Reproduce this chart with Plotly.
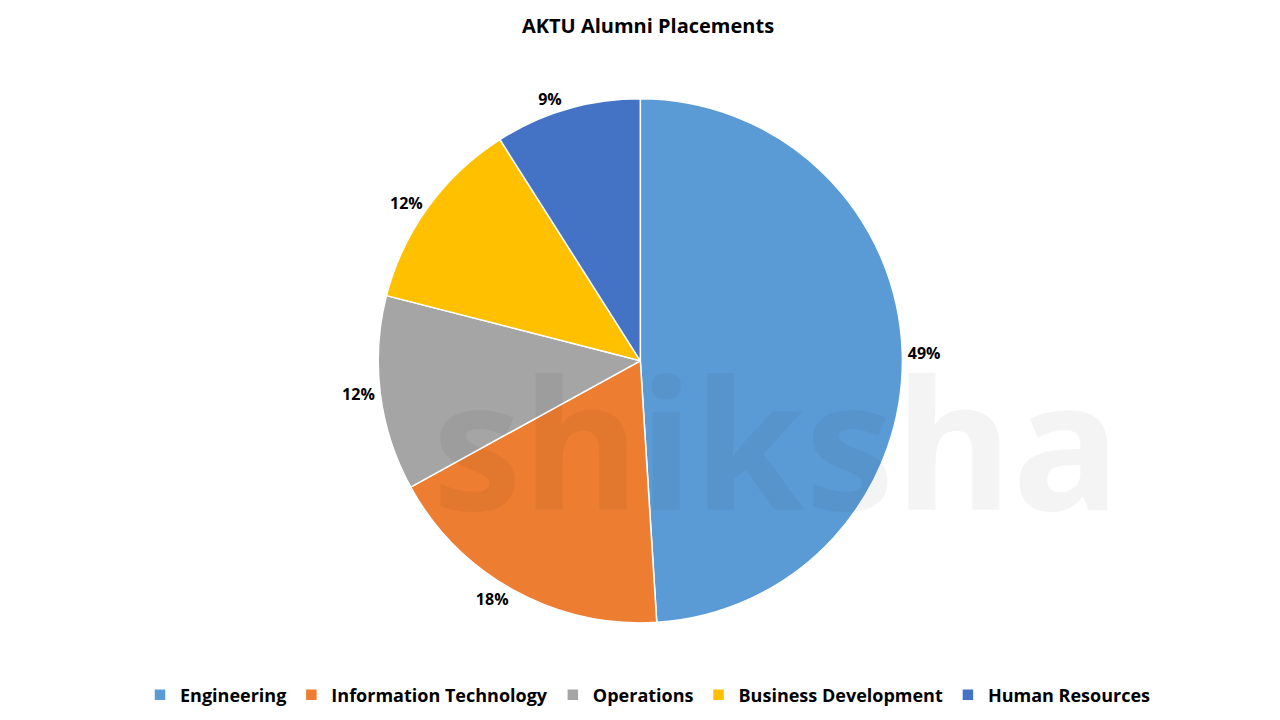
import plotly.graph_objects as go

labels = ["Engineering", "Information Technology", "Operations", "Business Development", "Human Resources"]
values = [49, 18, 12, 12, 9]
colors = ["#5B9BD5", "#ED7D31", "#A5A5A5", "#FFC000", "#4472C4"]

fig = go.Figure(go.Pie(
    labels=labels, values=values, sort=False, direction="clockwise", rotation=0,
    marker=dict(colors=colors, line=dict(color="white", width=1.5)),
    textinfo="percent", texttemplate="%{percent:.0%}", textposition="outside",
    textfont=dict(family="Open Sans", size=16, color="black", weight="bold"),
    outsidetextfont=dict(family="Open Sans", size=16, color="black", weight="bold"),
    domain=dict(x=[0.194, 0.794], y=[0.146, 0.874]),
))
fig.add_annotation(text="shiksha", x=0.6, y=0.40, xref="paper", yref="paper", showarrow=False,
                   font=dict(family="Noto Sans", size=180, color="rgba(0,0,0,0.045)", weight="bold"))
fig.update_layout(
    width=1280, height=720, paper_bgcolor="white", plot_bgcolor="white",
    margin=dict(l=0, r=0, t=0, b=0),
    title=dict(text="<b>AKTU Alumni Placements</b>", x=0.5, xanchor="center", y=0.975, yanchor="middle",
               font=dict(family="Open Sans", size=20, color="black")),
    legend=dict(orientation="h", x=0.5, xanchor="center", y=0.02, yanchor="bottom",
                font=dict(family="Open Sans", size=18, color="black", weight="bold"), itemwidth=30),
)
fig.write_html("out.html")
